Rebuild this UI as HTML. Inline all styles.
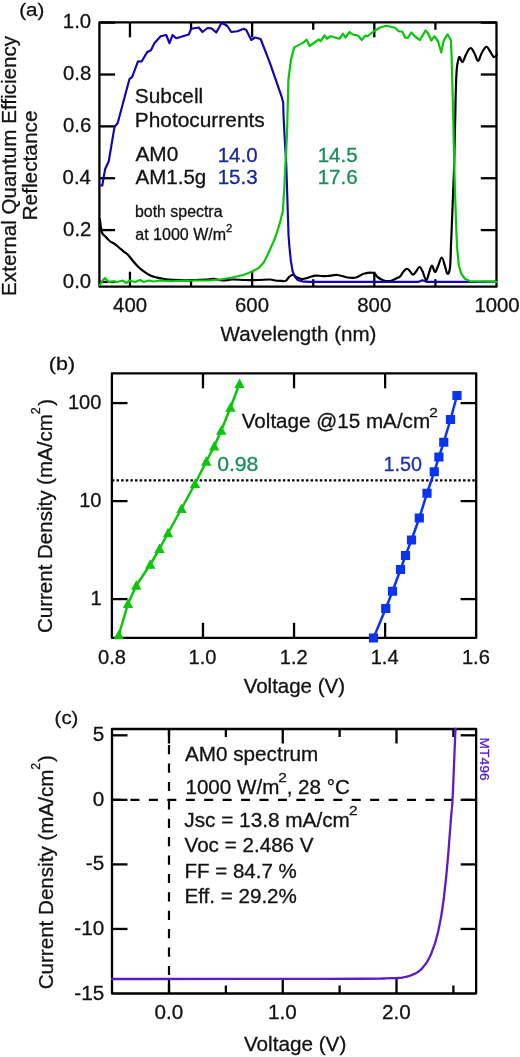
<!DOCTYPE html>
<html lang="en">
<head>
<meta charset="utf-8">
<title>Figure</title>
<style>
html,body{margin:0;padding:0;background:#fff;}
body{width:520px;height:1057px;overflow:hidden;}
svg{display:block;}
svg text{font-family:'Liberation Sans', Arial, Helvetica, sans-serif;}
</style>
</head>
<body>
<svg width="520" height="1057" viewBox="0 0 520 1057">
<rect x="0" y="0" width="520" height="1057" fill="#ffffff"/>
<g id="panel-a">
<clipPath id="ca"><rect x="98.25" y="21.150000000000002" width="399.40000000000003" height="266.7"/></clipPath>
<rect x="99.4" y="22.3" width="397.1" height="264.4" fill="none" stroke="#000" stroke-width="2.3" stroke-linejoin="round"/>
<line x1="99.40" y1="281.95" x2="115.10" y2="281.95" stroke="#000" stroke-width="2.3"/>
<line x1="480.80" y1="281.95" x2="496.50" y2="281.95" stroke="#000" stroke-width="2.3"/>
<text x="62.84" y="287.55" font-size="19.3" textLength="28.28" lengthAdjust="spacingAndGlyphs" fill="#131313" stroke="#131313" stroke-width="0.3">0.0</text>
<line x1="99.40" y1="230.09" x2="115.10" y2="230.09" stroke="#000" stroke-width="2.3"/>
<line x1="480.80" y1="230.09" x2="496.50" y2="230.09" stroke="#000" stroke-width="2.3"/>
<text x="63.09" y="235.69" font-size="19.3" textLength="28.28" lengthAdjust="spacingAndGlyphs" fill="#131313" stroke="#131313" stroke-width="0.3">0.2</text>
<line x1="99.40" y1="178.23" x2="115.10" y2="178.23" stroke="#000" stroke-width="2.3"/>
<line x1="480.80" y1="178.23" x2="496.50" y2="178.23" stroke="#000" stroke-width="2.3"/>
<text x="62.63" y="183.83" font-size="19.3" textLength="28.28" lengthAdjust="spacingAndGlyphs" fill="#131313" stroke="#131313" stroke-width="0.3">0.4</text>
<line x1="99.40" y1="126.37" x2="115.10" y2="126.37" stroke="#000" stroke-width="2.3"/>
<line x1="480.80" y1="126.37" x2="496.50" y2="126.37" stroke="#000" stroke-width="2.3"/>
<text x="62.94" y="131.97" font-size="19.3" textLength="28.28" lengthAdjust="spacingAndGlyphs" fill="#131313" stroke="#131313" stroke-width="0.3">0.6</text>
<line x1="99.40" y1="74.51" x2="115.10" y2="74.51" stroke="#000" stroke-width="2.3"/>
<line x1="480.80" y1="74.51" x2="496.50" y2="74.51" stroke="#000" stroke-width="2.3"/>
<text x="62.94" y="80.11" font-size="19.3" textLength="28.28" lengthAdjust="spacingAndGlyphs" fill="#131313" stroke="#131313" stroke-width="0.3">0.8</text>
<line x1="99.40" y1="22.65" x2="115.10" y2="22.65" stroke="#000" stroke-width="2.3"/>
<line x1="480.80" y1="22.65" x2="496.50" y2="22.65" stroke="#000" stroke-width="2.3"/>
<text x="62.84" y="28.25" font-size="19.3" textLength="28.28" lengthAdjust="spacingAndGlyphs" fill="#131313" stroke="#131313" stroke-width="0.3">1.0</text>
<line x1="129.95" y1="22.30" x2="129.95" y2="37.30" stroke="#000" stroke-width="2.3"/>
<line x1="129.95" y1="286.70" x2="129.95" y2="271.70" stroke="#000" stroke-width="2.3"/>
<text x="113.14" y="312.3" font-size="19.3" textLength="33.94" lengthAdjust="spacingAndGlyphs" fill="#131313" stroke="#131313" stroke-width="0.3">400</text>
<line x1="191.04" y1="22.30" x2="191.04" y2="29.80" stroke="#000" stroke-width="2.3"/>
<line x1="191.04" y1="286.70" x2="191.04" y2="279.20" stroke="#000" stroke-width="2.3"/>
<line x1="252.13" y1="22.30" x2="252.13" y2="37.30" stroke="#000" stroke-width="2.3"/>
<line x1="252.13" y1="286.70" x2="252.13" y2="271.70" stroke="#000" stroke-width="2.3"/>
<text x="235.04" y="312.3" font-size="19.3" textLength="33.94" lengthAdjust="spacingAndGlyphs" fill="#131313" stroke="#131313" stroke-width="0.3">600</text>
<line x1="313.22" y1="22.30" x2="313.22" y2="29.80" stroke="#000" stroke-width="2.3"/>
<line x1="313.22" y1="286.70" x2="313.22" y2="279.20" stroke="#000" stroke-width="2.3"/>
<line x1="374.32" y1="22.30" x2="374.32" y2="37.30" stroke="#000" stroke-width="2.3"/>
<line x1="374.32" y1="286.70" x2="374.32" y2="271.70" stroke="#000" stroke-width="2.3"/>
<text x="357.3" y="312.3" font-size="19.3" textLength="33.94" lengthAdjust="spacingAndGlyphs" fill="#131313" stroke="#131313" stroke-width="0.3">800</text>
<line x1="435.41" y1="22.30" x2="435.41" y2="29.80" stroke="#000" stroke-width="2.3"/>
<line x1="435.41" y1="286.70" x2="435.41" y2="279.20" stroke="#000" stroke-width="2.3"/>
<text x="474.41" y="312.3" font-size="19.3" textLength="45.26" lengthAdjust="spacingAndGlyphs" fill="#131313" stroke="#131313" stroke-width="0.3">1000</text>
<g clip-path="url(#ca)">
<path d="M99.80,219.00 C99.87,219.53 99.81,219.46 100.20,221.90 C100.59,224.34 100.95,229.61 101.90,232.30 C102.85,235.00 103.97,235.00 105.40,236.60 C106.83,238.19 108.12,239.73 109.70,241.00 C111.28,242.27 112.41,242.40 114.00,243.50 C115.59,244.60 116.66,245.57 118.40,247.00 C120.14,248.43 121.76,249.87 123.50,251.30 C125.24,252.73 126.31,253.21 127.90,254.80 C129.50,256.39 130.46,257.95 132.20,260.00 C133.94,262.05 135.35,263.95 137.40,266.00 C139.45,268.05 141.02,269.44 143.40,271.20 C145.78,272.96 147.85,274.43 150.40,275.60 C152.95,276.77 154.77,276.98 157.30,277.60 C159.83,278.22 161.34,278.58 164.20,279.00 C167.06,279.42 169.09,279.66 172.90,279.90 C176.71,280.14 180.95,280.28 185.00,280.30 C189.05,280.32 190.88,280.15 195.00,280.00 C199.12,279.85 203.83,279.68 207.50,279.50 C211.17,279.32 212.25,278.82 215.00,279.00 C217.75,279.18 219.29,280.41 222.50,280.50 C225.71,280.59 228.38,279.59 232.50,279.50 C236.62,279.41 240.42,279.91 245.00,280.00 C249.58,280.09 252.92,280.09 257.50,280.00 C262.08,279.91 266.79,279.41 270.00,279.50 C273.21,279.59 272.89,280.24 275.00,280.50 C277.11,280.76 279.56,280.83 281.50,280.90 C283.44,280.97 284.12,281.71 285.60,280.90 C287.09,280.09 288.23,277.62 289.60,276.50 C290.98,275.38 291.84,274.69 293.10,274.80 C294.37,274.91 294.81,276.31 296.50,277.10 C298.19,277.89 300.17,278.99 302.30,279.10 C304.43,279.21 305.77,278.34 308.10,277.70 C310.43,277.06 312.47,275.91 315.00,275.60 C317.53,275.29 319.61,275.93 321.90,276.00 C324.19,276.07 324.64,276.18 327.50,276.00 C330.36,275.82 333.83,274.73 337.50,275.00 C341.17,275.27 344.06,277.04 347.50,277.50 C350.94,277.96 353.27,278.19 356.25,277.50 C359.23,276.81 360.54,274.57 363.75,273.75 C366.96,272.93 371.23,272.40 373.75,273.00 C376.27,273.60 375.67,275.62 377.50,277.00 C379.33,278.38 381.46,279.77 383.75,280.50 C386.04,281.23 387.71,281.38 390.00,281.00 C392.29,280.62 394.42,279.22 396.25,278.40 C398.08,277.57 398.62,277.81 400.00,276.50 C401.38,275.19 402.47,272.67 403.75,271.25 C405.03,269.83 405.85,268.75 407.00,268.75 C408.15,268.75 408.90,270.16 410.00,271.25 C411.10,272.34 411.85,274.70 413.00,274.70 C414.15,274.70 415.06,272.66 416.25,271.25 C417.44,269.84 418.35,267.00 419.50,267.00 C420.65,267.00 421.25,268.83 422.50,271.25 C423.75,273.67 425.02,280.20 426.30,280.20 C427.58,280.20 428.45,273.94 429.50,271.25 C430.55,268.56 430.99,265.36 432.00,265.50 C433.01,265.64 433.90,271.86 435.00,272.00 C436.10,272.14 436.76,268.91 438.00,266.25 C439.24,263.59 440.47,257.50 441.75,257.50 C443.03,257.50 443.95,263.27 445.00,266.25 C446.05,269.23 446.58,273.52 447.50,273.75 C448.42,273.98 449.36,272.77 450.00,267.50 C450.64,262.23 450.60,254.44 451.00,245.00 C451.40,235.56 451.61,231.03 452.20,216.00 C452.79,200.97 453.63,181.52 454.20,163.00 C454.77,144.48 455.03,127.47 455.30,115.00 C455.57,102.53 455.44,103.32 455.70,95.00 C455.96,86.68 456.19,76.16 456.70,69.60 C457.21,63.04 457.93,61.47 458.50,59.20 C459.07,56.93 459.07,56.67 459.80,57.20 C460.53,57.73 461.36,62.58 462.50,62.10 C463.64,61.62 464.84,56.93 466.00,54.60 C467.16,52.27 467.81,50.55 468.80,49.40 C469.79,48.24 470.34,47.55 471.40,48.30 C472.46,49.05 473.37,51.17 474.60,53.50 C475.83,55.83 476.84,61.00 478.10,61.00 C479.37,61.00 480.01,56.10 481.50,53.50 C482.99,50.90 484.71,47.33 486.20,46.80 C487.69,46.27 488.23,48.75 489.60,50.60 C490.98,52.45 492.30,56.17 493.70,56.90 C495.10,57.63 496.60,55.02 497.25,54.60" fill="none" stroke="#000" stroke-width="2.2" stroke-linejoin="round" stroke-linecap="round"/>
<polyline points="99.50,185.50 102.30,185.50 103.50,178.00 105.20,169.00 108.75,161.25 114.50,126.90 117.70,123.00 129.40,79.20 132.20,76.90 138.00,61.25 141.60,61.50 147.30,51.90 150.90,50.30 154.40,43.30 160.60,36.25 166.25,35.00 169.50,43.25 172.50,35.00 176.25,38.25 188.75,34.50 191.25,28.75 198.75,27.50 202.50,32.00 207.50,28.00 211.50,28.40 216.25,32.50 221.50,23.00 225.00,24.50 227.50,26.25 231.25,32.00 237.50,31.25 243.75,28.75 246.25,30.00 251.25,40.00 255.00,37.50 260.60,39.00 269.70,62.30 281.70,96.90 283.20,102.70 283.50,115.00 284.60,136.50 286.20,163.00 287.50,202.70 288.50,235.00 289.40,246.50 290.80,260.40 292.50,270.80 294.80,276.50 297.70,280.00 302.30,281.40 309.20,281.90 330.00,281.90 418.00,281.90 422.50,280.30 427.00,281.90 470.00,281.90 496.00,281.90" fill="none" stroke="#1204b4" stroke-width="2.15" stroke-linejoin="round" stroke-linecap="round"/>
<polyline points="100.00,285.00 102.00,281.25 105.00,278.00 108.75,282.00 113.75,281.25 117.50,282.00 122.50,280.50 126.25,283.00 130.00,280.50 135.00,282.00 140.00,280.00 143.75,282.00 148.75,280.50 153.75,281.50 160.00,280.50 170.00,281.25 182.50,280.75 195.00,280.50 207.50,280.50 220.00,279.50 232.50,277.50 245.00,274.50 252.50,271.25 258.75,268.00 263.75,262.50 268.10,253.75 273.20,242.50 276.30,234.50 279.60,223.90 282.90,210.70 284.20,189.50 285.50,163.00 286.90,136.50 287.60,110.00 288.40,80.00 290.80,60.40 294.20,47.40 303.30,42.60 306.70,39.70 309.60,46.00 318.75,39.50 320.50,41.25 324.50,35.50 327.00,38.75 330.50,36.25 339.50,38.75 343.00,33.75 345.50,37.50 349.50,32.00 352.50,34.50 358.00,35.50 361.75,40.00 365.50,35.50 367.50,36.25 373.75,31.25 380.00,27.50 386.25,25.75 395.00,27.70 398.75,31.25 402.25,31.60 405.00,37.50 407.75,38.00 411.25,32.50 415.50,37.00 420.00,40.00 425.50,30.50 428.00,33.30 431.25,40.50 434.50,36.25 438.00,41.25 441.25,52.50 443.70,40.50 447.50,34.40 450.90,40.00 451.60,57.00 452.50,89.20 453.20,115.00 453.90,150.00 454.90,189.50 455.80,215.00 456.50,235.00 457.30,250.00 458.75,265.00 461.25,273.75 465.00,278.75 470.00,281.25 497.00,281.90" fill="none" stroke="#0ac60a" stroke-width="2.2" stroke-linejoin="round" stroke-linecap="round"/>
</g>
<text x="19.21" y="16.4" font-size="18.5" textLength="25.17" lengthAdjust="spacingAndGlyphs" fill="#131313" stroke="#131313" stroke-width="0.3">(a)</text>
<text x="220.6" y="340.8" font-size="20.5" textLength="155.88" lengthAdjust="spacingAndGlyphs" fill="#131313" stroke="#131313" stroke-width="0.3">Wavelength (nm)</text>
<text x="16.5" y="295.9" font-size="20.5" textLength="260.03" lengthAdjust="spacingAndGlyphs" transform="rotate(-90 16.5 295.9)" fill="#131313" stroke="#131313" stroke-width="0.3">External Quantum Efficiency</text>
<text x="37.5" y="220.42" font-size="20.5" textLength="109.92" lengthAdjust="spacingAndGlyphs" transform="rotate(-90 37.5 220.42)" fill="#131313" stroke="#131313" stroke-width="0.3">Reflectance</text>
<text x="134.76" y="103.3" font-size="20.5" textLength="68.45" lengthAdjust="spacingAndGlyphs" fill="#131313" stroke="#131313" stroke-width="0.3">Subcell</text>
<text x="134.78" y="126.5" font-size="20.5" textLength="129.97" lengthAdjust="spacingAndGlyphs" fill="#131313" stroke="#131313" stroke-width="0.3">Photocurrents</text>
<text x="135.45" y="161.2" font-size="20.5" textLength="42.86" lengthAdjust="spacingAndGlyphs" fill="#131313" stroke="#131313" stroke-width="0.3">AM0</text>
<text x="135.45" y="184.3" font-size="20.5" textLength="70.86" lengthAdjust="spacingAndGlyphs" fill="#131313" stroke="#131313" stroke-width="0.3">AM1.5g</text>
<text x="217.66" y="161.5" font-size="20.5" textLength="39.94" lengthAdjust="spacingAndGlyphs" fill="#18289f" stroke="#18289f" stroke-width="0.3">14.0</text>
<text x="217.66" y="184.3" font-size="20.5" textLength="40.05" lengthAdjust="spacingAndGlyphs" fill="#18289f" stroke="#18289f" stroke-width="0.3">15.3</text>
<text x="317.66" y="161.5" font-size="20.5" textLength="39.99" lengthAdjust="spacingAndGlyphs" fill="#188e58" stroke="#188e58" stroke-width="0.3">14.5</text>
<text x="317.66" y="184.3" font-size="20.5" textLength="40.05" lengthAdjust="spacingAndGlyphs" fill="#188e58" stroke="#188e58" stroke-width="0.3">17.6</text>
<text x="134.97" y="216.9" font-size="16" textLength="87.55" lengthAdjust="spacingAndGlyphs" fill="#131313" stroke="#131313" stroke-width="0.3">both spectra</text>
<text x="135.32" y="240.3" font-size="16" textLength="90.75" lengthAdjust="spacingAndGlyphs" fill="#131313" stroke="#131313" stroke-width="0.3">at 1000 W/m</text>
<text x="225.94" y="231.6" font-size="10.4" textLength="6.23" lengthAdjust="spacingAndGlyphs" fill="#131313" stroke="#131313" stroke-width="0.3">2</text>
</g>
<g id="panel-b">
<clipPath id="cb"><rect x="110.75" y="372.15000000000003" width="366.59999999999997" height="266.79999999999995"/></clipPath>
<line x1="111.90" y1="480.45" x2="476.20" y2="480.45" stroke="#000" stroke-width="2.2" stroke-dasharray="2.5 2.12"/>
<rect x="111.9" y="373.3" width="364.29999999999995" height="264.49999999999994" fill="none" stroke="#000" stroke-width="2.3" stroke-linejoin="round"/>
<line x1="111.90" y1="599.10" x2="127.50" y2="599.10" stroke="#000" stroke-width="2.3"/>
<line x1="460.60" y1="599.10" x2="476.20" y2="599.10" stroke="#000" stroke-width="2.3"/>
<text x="90.51" y="605.0" font-size="19.5" textLength="11.17" lengthAdjust="spacingAndGlyphs" fill="#131313" stroke="#131313" stroke-width="0.3">1</text>
<line x1="111.90" y1="501.10" x2="127.50" y2="501.10" stroke="#000" stroke-width="2.3"/>
<line x1="460.60" y1="501.10" x2="476.20" y2="501.10" stroke="#000" stroke-width="2.3"/>
<text x="79.16" y="507.0" font-size="19.5" textLength="22.34" lengthAdjust="spacingAndGlyphs" fill="#131313" stroke="#131313" stroke-width="0.3">10</text>
<line x1="111.90" y1="403.10" x2="127.50" y2="403.10" stroke="#000" stroke-width="2.3"/>
<line x1="460.60" y1="403.10" x2="476.20" y2="403.10" stroke="#000" stroke-width="2.3"/>
<text x="67.96" y="409.0" font-size="19.5" textLength="33.51" lengthAdjust="spacingAndGlyphs" fill="#131313" stroke="#131313" stroke-width="0.3">100</text>
<text x="97.97" y="663.6" font-size="19.5" textLength="27.92" lengthAdjust="spacingAndGlyphs" fill="#131313" stroke="#131313" stroke-width="0.3">0.8</text>
<line x1="202.97" y1="373.30" x2="202.97" y2="388.30" stroke="#000" stroke-width="2.3"/>
<line x1="202.97" y1="637.80" x2="202.97" y2="622.80" stroke="#000" stroke-width="2.3"/>
<text x="188.64" y="663.6" font-size="19.5" textLength="27.92" lengthAdjust="spacingAndGlyphs" fill="#131313" stroke="#131313" stroke-width="0.3">1.0</text>
<line x1="294.05" y1="373.30" x2="294.05" y2="388.30" stroke="#000" stroke-width="2.3"/>
<line x1="294.05" y1="637.80" x2="294.05" y2="622.80" stroke="#000" stroke-width="2.3"/>
<text x="279.84" y="663.6" font-size="19.5" textLength="27.92" lengthAdjust="spacingAndGlyphs" fill="#131313" stroke="#131313" stroke-width="0.3">1.2</text>
<line x1="385.12" y1="373.30" x2="385.12" y2="388.30" stroke="#000" stroke-width="2.3"/>
<line x1="385.12" y1="637.80" x2="385.12" y2="622.80" stroke="#000" stroke-width="2.3"/>
<text x="370.69" y="663.6" font-size="19.5" textLength="27.92" lengthAdjust="spacingAndGlyphs" fill="#131313" stroke="#131313" stroke-width="0.3">1.4</text>
<text x="461.91" y="663.6" font-size="19.5" textLength="27.92" lengthAdjust="spacingAndGlyphs" fill="#131313" stroke="#131313" stroke-width="0.3">1.6</text>
<g>
<polyline points="118.75,635.00 128.00,603.75 136.25,585.50 150.25,564.50 159.50,548.75 168.00,533.00 181.50,508.75 195.00,483.75 206.25,461.50 214.25,446.25 221.25,430.50 230.50,407.50 239.50,383.75" fill="none" stroke="#0ac60a" stroke-width="2.5" stroke-linejoin="round" stroke-linecap="round"/>
<polygon points="113.55,639.20 123.95,639.20 118.75,629.70" fill="#0ac60a"/>
<polygon points="122.80,607.95 133.20,607.95 128.00,598.45" fill="#0ac60a"/>
<polygon points="131.05,589.70 141.45,589.70 136.25,580.20" fill="#0ac60a"/>
<polygon points="145.05,568.70 155.45,568.70 150.25,559.20" fill="#0ac60a"/>
<polygon points="154.30,552.95 164.70,552.95 159.50,543.45" fill="#0ac60a"/>
<polygon points="162.80,537.20 173.20,537.20 168.00,527.70" fill="#0ac60a"/>
<polygon points="176.30,512.95 186.70,512.95 181.50,503.45" fill="#0ac60a"/>
<polygon points="189.80,487.95 200.20,487.95 195.00,478.45" fill="#0ac60a"/>
<polygon points="201.05,465.70 211.45,465.70 206.25,456.20" fill="#0ac60a"/>
<polygon points="209.05,450.45 219.45,450.45 214.25,440.95" fill="#0ac60a"/>
<polygon points="216.05,434.70 226.45,434.70 221.25,425.20" fill="#0ac60a"/>
<polygon points="225.30,411.70 235.70,411.70 230.50,402.20" fill="#0ac60a"/>
<polygon points="234.30,387.95 244.70,387.95 239.50,378.45" fill="#0ac60a"/>
<polyline points="373.50,638.00 385.75,608.50 392.50,591.25 400.50,569.50 405.50,555.50 411.50,540.00 419.30,518.00 427.00,493.25 434.25,471.75 438.90,457.00 443.75,442.25 450.50,419.50 457.00,395.50" fill="none" stroke="#0b34ee" stroke-width="2.5" stroke-linejoin="round" stroke-linecap="round"/>
<rect x="368.90" y="633.50" width="9.2" height="9" fill="#0b34ee"/>
<rect x="381.15" y="604.00" width="9.2" height="9" fill="#0b34ee"/>
<rect x="387.90" y="586.75" width="9.2" height="9" fill="#0b34ee"/>
<rect x="395.90" y="565.00" width="9.2" height="9" fill="#0b34ee"/>
<rect x="400.90" y="551.00" width="9.2" height="9" fill="#0b34ee"/>
<rect x="406.90" y="535.50" width="9.2" height="9" fill="#0b34ee"/>
<rect x="414.70" y="513.50" width="9.2" height="9" fill="#0b34ee"/>
<rect x="422.40" y="488.75" width="9.2" height="9" fill="#0b34ee"/>
<rect x="429.65" y="467.25" width="9.2" height="9" fill="#0b34ee"/>
<rect x="434.30" y="452.50" width="9.2" height="9" fill="#0b34ee"/>
<rect x="439.15" y="437.75" width="9.2" height="9" fill="#0b34ee"/>
<rect x="445.90" y="415.00" width="9.2" height="9" fill="#0b34ee"/>
<rect x="452.40" y="391.00" width="9.2" height="9" fill="#0b34ee"/>
</g>
<text x="48.86" y="370.3" font-size="18.5" textLength="26.28" lengthAdjust="spacingAndGlyphs" fill="#131313" stroke="#131313" stroke-width="0.3">(b)</text>
<text x="243.65" y="693" font-size="20.5" textLength="101.38" lengthAdjust="spacingAndGlyphs" fill="#131313" stroke="#131313" stroke-width="0.3">Voltage (V)</text>
<text x="52.4" y="633.03" font-size="20.5" textLength="218.78" lengthAdjust="spacingAndGlyphs" transform="rotate(-90 52.4 633.03)" fill="#131313" stroke="#131313" stroke-width="0.3">Current Density (mA/cm</text>
<text x="40.2" y="414.23" font-size="13" textLength="6.97" lengthAdjust="spacingAndGlyphs" transform="rotate(-90 40.2 414.23)" fill="#131313" stroke="#131313" stroke-width="0.3">2</text>
<text x="52.8" y="405.85" font-size="20.5" textLength="6.83" lengthAdjust="spacingAndGlyphs" transform="rotate(-90 52.8 405.85)" fill="#131313" stroke="#131313" stroke-width="0.3">)</text>
<text x="241.7" y="428.3" font-size="20.5" textLength="188.46" lengthAdjust="spacingAndGlyphs" fill="#131313" stroke="#131313" stroke-width="0.3">Voltage @15 mA/cm</text>
<text x="429.23" y="416.8" font-size="12.8" textLength="8.56" lengthAdjust="spacingAndGlyphs" fill="#131313" stroke="#131313" stroke-width="0.3">2</text>
<text x="217.15" y="470.5" font-size="20.5" textLength="41.28" lengthAdjust="spacingAndGlyphs" fill="#188e58" stroke="#188e58" stroke-width="0.3">0.98</text>
<text x="383.52" y="470.5" font-size="20.5" textLength="38.5" lengthAdjust="spacingAndGlyphs" fill="#1c2fb0" stroke="#1c2fb0" stroke-width="0.3">1.50</text>
</g>
<g id="panel-c">
<clipPath id="cc"><rect x="110.85" y="727.85" width="366.45" height="266.8"/></clipPath>
<line x1="112.00" y1="799.85" x2="476.15" y2="799.85" stroke="#000" stroke-width="2.2" stroke-dasharray="9 9.44"/>
<line x1="169.00" y1="993.50" x2="169.00" y2="729.00" stroke="#000" stroke-width="2.2" stroke-dasharray="9.2 9.2"/>
<rect x="112.0" y="729.0" width="364.15" height="264.5" fill="none" stroke="#000" stroke-width="2.3" stroke-linejoin="round"/>
<line x1="112.00" y1="735.30" x2="127.50" y2="735.30" stroke="#000" stroke-width="2.3"/>
<line x1="460.65" y1="735.30" x2="476.15" y2="735.30" stroke="#000" stroke-width="2.3"/>
<text x="92.75" y="741.3" font-size="19.5" textLength="11.5" lengthAdjust="spacingAndGlyphs" fill="#131313" stroke="#131313" stroke-width="0.3">5</text>
<line x1="112.00" y1="799.85" x2="127.50" y2="799.85" stroke="#000" stroke-width="2.3"/>
<line x1="460.65" y1="799.85" x2="476.15" y2="799.85" stroke="#000" stroke-width="2.3"/>
<text x="92.7" y="805.85" font-size="19.5" textLength="11.5" lengthAdjust="spacingAndGlyphs" fill="#131313" stroke="#131313" stroke-width="0.3">0</text>
<line x1="112.00" y1="864.40" x2="127.50" y2="864.40" stroke="#000" stroke-width="2.3"/>
<line x1="460.65" y1="864.40" x2="476.15" y2="864.40" stroke="#000" stroke-width="2.3"/>
<text x="85.88" y="870.4" font-size="19.5" textLength="18.38" lengthAdjust="spacingAndGlyphs" fill="#131313" stroke="#131313" stroke-width="0.3">-5</text>
<line x1="112.00" y1="928.95" x2="127.50" y2="928.95" stroke="#000" stroke-width="2.3"/>
<line x1="460.65" y1="928.95" x2="476.15" y2="928.95" stroke="#000" stroke-width="2.3"/>
<text x="74.31" y="934.95" font-size="19.5" textLength="29.88" lengthAdjust="spacingAndGlyphs" fill="#131313" stroke="#131313" stroke-width="0.3">-10</text>
<text x="74.36" y="999.5" font-size="19.5" textLength="29.88" lengthAdjust="spacingAndGlyphs" fill="#131313" stroke="#131313" stroke-width="0.3">-15</text>
<line x1="169.00" y1="729.00" x2="169.00" y2="743.50" stroke="#000" stroke-width="2.3"/>
<line x1="169.00" y1="993.50" x2="169.00" y2="979.00" stroke="#000" stroke-width="2.3"/>
<text x="154.61" y="1019.0" font-size="19.5" textLength="28.74" lengthAdjust="spacingAndGlyphs" fill="#131313" stroke="#131313" stroke-width="0.3">0.0</text>
<line x1="225.88" y1="729.00" x2="225.88" y2="737.00" stroke="#000" stroke-width="2.3"/>
<line x1="225.88" y1="993.50" x2="225.88" y2="985.50" stroke="#000" stroke-width="2.3"/>
<line x1="282.75" y1="729.00" x2="282.75" y2="743.50" stroke="#000" stroke-width="2.3"/>
<line x1="282.75" y1="993.50" x2="282.75" y2="979.00" stroke="#000" stroke-width="2.3"/>
<text x="268.0" y="1019.0" font-size="19.5" textLength="28.74" lengthAdjust="spacingAndGlyphs" fill="#131313" stroke="#131313" stroke-width="0.3">1.0</text>
<line x1="339.62" y1="729.00" x2="339.62" y2="737.00" stroke="#000" stroke-width="2.3"/>
<line x1="339.62" y1="993.50" x2="339.62" y2="985.50" stroke="#000" stroke-width="2.3"/>
<line x1="396.50" y1="729.00" x2="396.50" y2="743.50" stroke="#000" stroke-width="2.3"/>
<line x1="396.50" y1="993.50" x2="396.50" y2="979.00" stroke="#000" stroke-width="2.3"/>
<text x="382.01" y="1019.0" font-size="19.5" textLength="28.74" lengthAdjust="spacingAndGlyphs" fill="#131313" stroke="#131313" stroke-width="0.3">2.0</text>
<line x1="453.38" y1="729.00" x2="453.38" y2="737.00" stroke="#000" stroke-width="2.3"/>
<line x1="453.38" y1="993.50" x2="453.38" y2="985.50" stroke="#000" stroke-width="2.3"/>
<g clip-path="url(#cc)">
<path d="M112.00,979.00 C158.00,978.97 167.33,978.98 250.00,978.90 C332.67,978.82 315.00,978.95 360.00,978.75 C405.00,978.55 372.50,978.55 385.00,978.30 C397.50,978.05 390.83,978.43 397.50,978.00 C404.17,977.57 400.00,978.13 405.00,977.00 C410.00,975.87 407.92,976.52 412.50,974.60 C417.08,972.68 415.00,974.03 418.75,971.25 C422.50,968.47 420.42,970.42 423.75,966.25 C427.08,962.08 425.67,964.58 428.75,958.75 C431.83,952.92 430.50,955.42 433.00,948.75 C435.50,942.08 434.08,946.67 436.25,938.75 C438.42,930.83 437.42,935.42 439.50,925.00 C441.58,914.58 440.67,920.00 442.50,907.50 C444.33,895.00 443.33,902.50 445.00,887.50 C446.67,872.50 446.00,879.17 447.50,862.50 C449.00,845.83 448.25,853.33 449.50,837.50 C450.75,821.67 450.25,827.50 451.25,815.00 C452.25,802.50 451.58,816.67 452.50,800.00 C453.42,783.33 453.00,789.00 454.00,765.00 C455.00,741.00 455.00,740.33 455.50,728.00" fill="none" stroke="#5f1ac8" stroke-width="2.3" stroke-linejoin="round" stroke-linecap="round"/>
</g>
<text x="54.63" y="724.1" font-size="18.5" textLength="23.66" lengthAdjust="spacingAndGlyphs" fill="#131313" stroke="#131313" stroke-width="0.3">(c)</text>
<text x="243.9" y="1050.5" font-size="20.5" textLength="102.4" lengthAdjust="spacingAndGlyphs" fill="#131313" stroke="#131313" stroke-width="0.3">Voltage (V)</text>
<text x="52.7" y="989.33" font-size="20.5" textLength="219.69" lengthAdjust="spacingAndGlyphs" transform="rotate(-90 52.7 989.33)" fill="#131313" stroke="#131313" stroke-width="0.3">Current Density (mA/cm</text>
<text x="40.2" y="769.82" font-size="13" textLength="6.85" lengthAdjust="spacingAndGlyphs" transform="rotate(-90 40.2 769.82)" fill="#131313" stroke="#131313" stroke-width="0.3">2</text>
<text x="53.0" y="761.95" font-size="20.5" textLength="6.86" lengthAdjust="spacingAndGlyphs" transform="rotate(-90 53.0 761.95)" fill="#131313" stroke="#131313" stroke-width="0.3">)</text>
<text x="184.95" y="760.75" font-size="20.5" textLength="133.43" lengthAdjust="spacingAndGlyphs" fill="#131313" stroke="#131313" stroke-width="0.3">AM0 spectrum</text>
<text x="185.46" y="794.25" font-size="20.5" textLength="93.88" lengthAdjust="spacingAndGlyphs" fill="#131313" stroke="#131313" stroke-width="0.3">1000 W/m</text>
<text x="278.23" y="781.6" font-size="12.6" textLength="8.56" lengthAdjust="spacingAndGlyphs" fill="#131313" stroke="#131313" stroke-width="0.3">2</text>
<text x="286.65" y="794.25" font-size="20.5" textLength="63.19" lengthAdjust="spacingAndGlyphs" fill="#131313" stroke="#131313" stroke-width="0.3">, 28 &#176;C</text>
<text x="184.29" y="827.1" font-size="20.5" textLength="165.56" lengthAdjust="spacingAndGlyphs" fill="#131313" stroke="#131313" stroke-width="0.3">Jsc = 13.8 mA/cm</text>
<text x="349.03" y="814.7" font-size="12.6" textLength="8.56" lengthAdjust="spacingAndGlyphs" fill="#131313" stroke="#131313" stroke-width="0.3">2</text>
<text x="184.5" y="852.2" font-size="20.5" textLength="129.11" lengthAdjust="spacingAndGlyphs" fill="#131313" stroke="#131313" stroke-width="0.3">Voc = 2.486 V</text>
<text x="184.51" y="877.7" font-size="20.5" textLength="112.26" lengthAdjust="spacingAndGlyphs" fill="#131313" stroke="#131313" stroke-width="0.3">FF = 84.7 %</text>
<text x="184.5" y="903.2" font-size="20.5" textLength="112.38" lengthAdjust="spacingAndGlyphs" fill="#131313" stroke="#131313" stroke-width="0.3">Eff. = 29.2%</text>
<text x="479.7" y="737.61" font-size="13.6" textLength="43.01" lengthAdjust="spacingAndGlyphs" transform="rotate(90 479.7 737.61)" fill="#5718cc" stroke="#5718cc" stroke-width="0.3">MT496</text>
</g>
</svg>
</body>
</html>
